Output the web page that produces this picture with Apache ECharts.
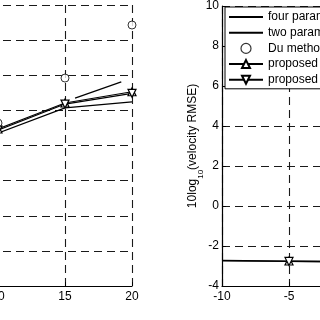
<!DOCTYPE html>
<html><head><meta charset="utf-8">
<script src="https://cdn.jsdelivr.net/npm/echarts@6/dist/echarts.min.js"></script>
<style>html,body{margin:0;padding:0;background:#fff}#c{width:320px;height:320px}</style>
</head><body><div id="c"></div>
<script>
// Left panel (cropped): SNR-like x, hidden y scale
var leftX = [10, 15, 20];
var leftDu = [3.28, 5.84, 8.86];
var leftProp1 = [2.94, 4.42, 5.06];
var leftProp2 = [2.88, 4.36, 4.97];
var leftTwo = [2.71, 4.14, 4.48];
var leftFourX = [15.75, 19.2];
var leftFour = [4.70, 5.62];
// Right panel: 10log10(velocity RMSE)
var rightX = [-10, -5, 0];
var rightFour = [-2.72, -2.76, -2.78];
var rightTwo = [-2.74, -2.77, -2.79];
var rightPropX = [-5, 0];
var rightProp1 = [-2.75, -2.78];
var rightProp2 = [-2.77, -2.79];
var xTicks = {min: -10, max: 20, interval: 5};
var yLeft = {min: -6, max: 10, interval: 2};
var yRight = {min: -4, max: 10, interval: 2};
var names = ['four parameter method', 'two parameter method', 'Du method', 'proposed method 1', 'proposed method 2'];

function zip(xs, ys) { return xs.map(function (x, i) { return [x, ys[i]]; }); }

var font = 'Liberation Sans, Arial, sans-serif';
var dash = {show: true, lineStyle: {type: [8, 5], color: '#1a1a1a', width: 1.1}};
var axisLine = {show: true, onZero: false, lineStyle: {color: '#000', width: 1.2}};
var tick = {show: true, inside: true, length: 4, lineStyle: {color: '#000'}};
var lbl = {color: '#000', fontSize: 12, fontFamily: font};

function lineS(name, xi, yi, data, sym, rot) {
  return {
    name: name, type: 'line', xAxisIndex: xi, yAxisIndex: yi, data: data,
    symbol: sym || 'none', symbolSize: 8, symbolRotate: rot || 0, showSymbol: !!sym,
    lineStyle: {color: '#000', width: 1.2}, itemStyle: {color: '#fff', borderColor: '#000', borderWidth: 1.2},
    animation: false, clip: false
  };
}

var hidden = {color: 'rgba(0,0,0,0)', borderColor: 'rgba(0,0,0,0)'};
var chart = echarts.init(document.getElementById('c'));
chart.setOption({
  animation: false,
  textStyle: {fontFamily: font},
  grid: [
    {left: -270, width: 402, top: 5, height: 281, outerBoundsMode: 'none', containLabel: false},
    {left: 222, width: 402, top: 6, height: 280, outerBoundsMode: 'none', containLabel: false}
  ],
  xAxis: [
    {gridIndex: 0, type: 'value', min: xTicks.min, max: xTicks.max, interval: xTicks.interval,
     axisLine: axisLine, axisTick: tick, axisLabel: Object.assign({margin: 5}, lbl), splitLine: dash},
    {gridIndex: 1, type: 'value', min: xTicks.min, max: xTicks.max, interval: xTicks.interval,
     axisLine: axisLine, axisTick: tick, axisLabel: Object.assign({margin: 5}, lbl), splitLine: dash}
  ],
  yAxis: [
    {gridIndex: 0, type: 'value', min: yLeft.min, max: yLeft.max, interval: yLeft.interval,
     axisLine: axisLine, axisTick: tick, axisLabel: lbl, splitLine: dash},
    {gridIndex: 1, type: 'value', min: yRight.min, max: yRight.max, interval: yRight.interval,
     axisLine: axisLine, axisTick: tick, axisLabel: Object.assign({margin: 3}, lbl), splitLine: dash,
     name: '10log{s|10}(velocity RMSE)', nameLocation: 'middle', nameGap: 23, nameRotate: 90,
     nameMoveOverlap: false,
     nameTextStyle: {color: '#000', fontSize: 12, fontFamily: font,
       rich: {s: {fontSize: 8, verticalAlign: 'bottom', padding: [0, 0, -6, 0], fontFamily: font}}}}
  ],
  legend: {
    orient: 'vertical', left: 225, top: 7, padding: [4, 100, 3, 3],
    backgroundColor: '#fff', borderColor: '#000', borderWidth: 1,
    itemWidth: 34, itemHeight: 10, itemGap: 3.7,
    textStyle: {color: '#000', fontSize: 12, fontFamily: font, lineHeight: 10, height: 10},
    data: [
      {name: names[0], itemStyle: hidden},
      {name: names[1], itemStyle: hidden},
      {name: names[2], icon: 'circle', itemStyle: {color: '#fff', borderColor: '#000', borderWidth: 1.2}},
      {name: names[3]},
      {name: names[4]}
    ]
  },
  series: [
    lineS(names[0], 0, 0, zip(leftFourX, leftFour)),
    lineS(names[1], 0, 0, zip(leftX, leftTwo)),
    {name: names[2], type: 'scatter', xAxisIndex: 0, yAxisIndex: 0, data: zip(leftX, leftDu),
     symbol: 'circle', symbolSize: 8, itemStyle: {color: '#fff', borderColor: '#000', borderWidth: 1}, clip: false},
    lineS(names[3], 0, 0, zip(leftX, leftProp1), 'triangle', 0),
    lineS(names[4], 0, 0, zip(leftX, leftProp2), 'triangle', 180),
    lineS(names[0], 1, 1, zip(rightX, rightFour)),
    lineS(names[1], 1, 1, zip(rightX, rightTwo)),
    lineS(names[3], 1, 1, zip(rightPropX, rightProp1), 'triangle', 0),
    lineS(names[4], 1, 1, zip(rightPropX, rightProp2), 'triangle', 180)
  ]
});
</script></body></html>
